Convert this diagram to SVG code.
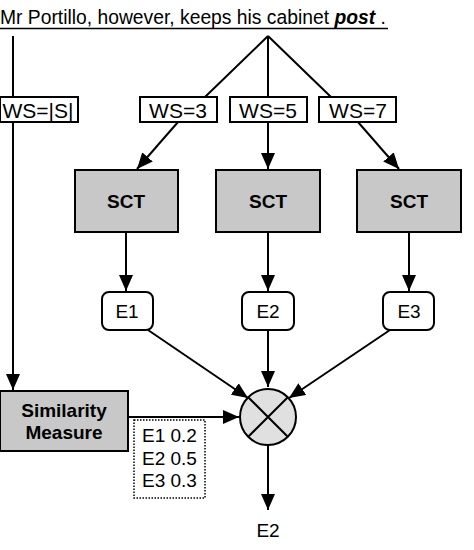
<svg xmlns="http://www.w3.org/2000/svg" width="474" height="550" viewBox="0 0 474 550">
<defs>
<marker id="ah" viewBox="0 0 16 14" refX="16" refY="7" markerWidth="16" markerHeight="14" markerUnits="userSpaceOnUse" orient="auto">
<path d="M0,0 L16,7 L0,14 z" fill="#000"/>
</marker>
<style>
text{font-family:"Liberation Sans",Arial,sans-serif;fill:#000}
.ln{stroke:#000;stroke-width:2;fill:none}
.ar{stroke:#000;stroke-width:2;fill:none;marker-end:url(#ah)}
.ws{fill:#fff;stroke:#000;stroke-width:2}
.sct{fill:#c8c8c8;stroke:#000;stroke-width:2}
.t{font-size:21px;text-anchor:middle}
.e{font-size:19px;text-anchor:middle}
.b{font-size:19px;font-weight:bold;text-anchor:middle}
</style>
</defs>
<rect width="474" height="550" fill="#fff"/>
<g id="sentence">
<text x="0" y="24" font-size="19.3">Mr Portillo, however, keeps his cabinet <tspan font-weight="bold" font-style="italic">post</tspan> .</text>
<line x1="0" y1="28.5" x2="388" y2="28.5" stroke="#000" stroke-width="1.5"/>
</g>
<g id="connectors">
<path class="ar" d="M13,36 V390"/>
<path class="ln" d="M268,36 L205,97 M268,36 V97 M268,36 L331,97"/>
<path class="ar" d="M178,122 L137,169"/>
<path class="ar" d="M268,122 V169"/>
<path class="ar" d="M358,122 L399,169"/>
<path class="ar" d="M126,232 V291"/>
<path class="ar" d="M268,232 V291"/>
<path class="ar" d="M409,232 V291"/>
<path class="ar" d="M148,330 L248,398"/>
<path class="ar" d="M268,330 V387"/>
<path class="ar" d="M390,330 L289,398"/>
<path class="ar" d="M128,417 H239"/>
<path class="ar" d="M268,445 V510"/>
</g>
<g id="ws-s"><rect class="ws" x="0" y="97" width="78" height="25"/><text class="t" x="38" y="118">WS=|S|</text></g>
<g id="ws-3"><rect class="ws" x="140" y="97" width="77" height="25"/><text class="t" x="178" y="118">WS=3</text></g>
<g id="ws-5"><rect class="ws" x="230" y="97" width="77" height="25"/><text class="t" x="268" y="118">WS=5</text></g>
<g id="ws-7"><rect class="ws" x="319" y="97" width="77" height="25"/><text class="t" x="358" y="118">WS=7</text></g>
<g id="sct1"><rect class="sct" x="75" y="170" width="103" height="62"/><text class="b" x="126" y="208">SCT</text></g>
<g id="sct2"><rect class="sct" x="216" y="170" width="104" height="62"/><text class="b" x="268" y="208">SCT</text></g>
<g id="sct3"><rect class="sct" x="357" y="170" width="104" height="62"/><text class="b" x="409" y="208">SCT</text></g>
<g id="e1"><rect class="ws" x="102" y="292" width="51" height="38" rx="7"/><text class="e" x="127" y="318">E1</text></g>
<g id="e2"><rect class="ws" x="242" y="292" width="52" height="38" rx="7"/><text class="e" x="268" y="318">E2</text></g>
<g id="e3"><rect class="ws" x="383" y="292" width="51" height="38" rx="7"/><text class="e" x="409" y="318">E3</text></g>
<g id="combiner">
<circle cx="268" cy="417" r="28" fill="#e0e0e0" stroke="#000" stroke-width="2"/>
<path class="ln" d="M248.2,397.2 L287.8,436.8 M287.8,397.2 L248.2,436.8"/>
</g>
<g id="similarity"><rect class="sct" x="0" y="391" width="128" height="60"/><text class="b" x="64" y="417">Similarity</text><text class="b" x="64" y="439">Measure</text></g>
<g id="weights">
<rect x="134" y="420" width="71" height="78" fill="#fff" stroke="#000" stroke-width="1.5" stroke-dasharray="1.5,1.5"/>
<text x="142" y="442" font-size="19">E1 0.2</text>
<text x="142" y="465" font-size="19">E2 0.5</text>
<text x="142" y="487" font-size="19">E3 0.3</text>
</g>
<g id="output"><text class="e" x="268" y="537">E2</text></g>
</svg>
